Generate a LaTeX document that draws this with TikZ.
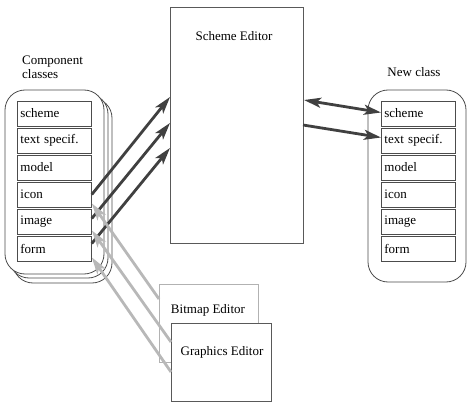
\documentclass[tikz,border=0pt]{standalone}
\usepackage{fontspec}
\setmainfont{Liberation Serif}
\usetikzlibrary{arrows.meta,positioning}

\tikzset{
	frame/.style={draw=black!70, line width=0.8pt, fill=white, rounded corners=20pt},
	slot/.style={draw=black!70, line width=0.8pt, fill=white, anchor=west, inner sep=3pt, text width=68pt, minimum height=25pt, align=left},
	editor/.style={draw=black!65, line width=0.8pt, fill=white, anchor=north west},
	tip/.tip={Stealth[length=17pt,width=10pt,inset=4pt]},
	use/.style={draw=black!75, line width=2.8pt, -tip},
	paint/.style={draw=black!28, line width=2.8pt, -tip}
}

\begin{document}
\begin{tikzpicture}[x=1pt, y=-1pt, font=\fontsize{13}{14}\selectfont]
	\useasboundingbox (0,0) rectangle (474,417);

	% component classes, stacked
	\draw[frame] (13,98) rectangle (112,283);
	\draw[frame] (9,94) rectangle (108,278);
	\draw[frame] (5,90) rectangle (104,274);
	\node[align=left, anchor=north west, inner sep=0pt] (comp) at (22,56) {Component\\classes};
	\foreach \lbl [count=\i] in {scheme,text specif.,model,icon,image,form}
		\node[slot] (l\i) at (17, 86.5+27*\i) {\lbl};

	% new class
	\draw[frame] (368,90) rectangle (466,282);
	\node[anchor=base] (newcls) at (414,77) {New class};
	\foreach \lbl [count=\i] in {scheme,text specif.,model,icon,image,form}
		\node[slot] (r\i) at (381, 86.5+27*\i) {\lbl};

	% editors
	\node[editor, minimum width=133pt, minimum height=236pt] (scheme) at (170,7) {};
	\node[anchor=base] at (234,41) {Scheme Editor};
	\node[editor, draw=black!30, minimum width=99pt, minimum height=78pt] (bitmap) at (159,284) {};
	\node[anchor=base] at (208,313) {Bitmap Editor};
	\node[editor, minimum width=100pt, minimum height=78pt] (graphics) at (171,323) {};
	\node[anchor=base] at (222,355) {Graphics Editor};

	\coordinate (s1) at (170,97);
	\coordinate (s2) at (170,123);
	\coordinate (s3) at (170,148);
	\coordinate (s4) at (304,100);
	\coordinate (s5) at (303,125);

	\draw[use] (l4.east) -- (s1);
	\draw[use] ([yshift=3pt]l5.east) -- (s2);
	\draw[use] ([yshift=5pt]l6.east) -- (s3);
	\draw[use, tip-tip] (s4) -- ([yshift=1pt]r1.west);
	\draw[use] (s5) -- ([yshift=3pt]r2.west);

	\draw[paint] ([yshift=-15pt]bitmap.north west) -- ([yshift=4pt]l4.south east);
	\draw[paint] ([yshift=-19pt]graphics.north west) -- ([yshift=4pt]l5.south east);
	\draw[paint] ([yshift=-49pt]graphics.north west) -- ([yshift=4pt]l6.south east);
\end{tikzpicture}
\end{document}
